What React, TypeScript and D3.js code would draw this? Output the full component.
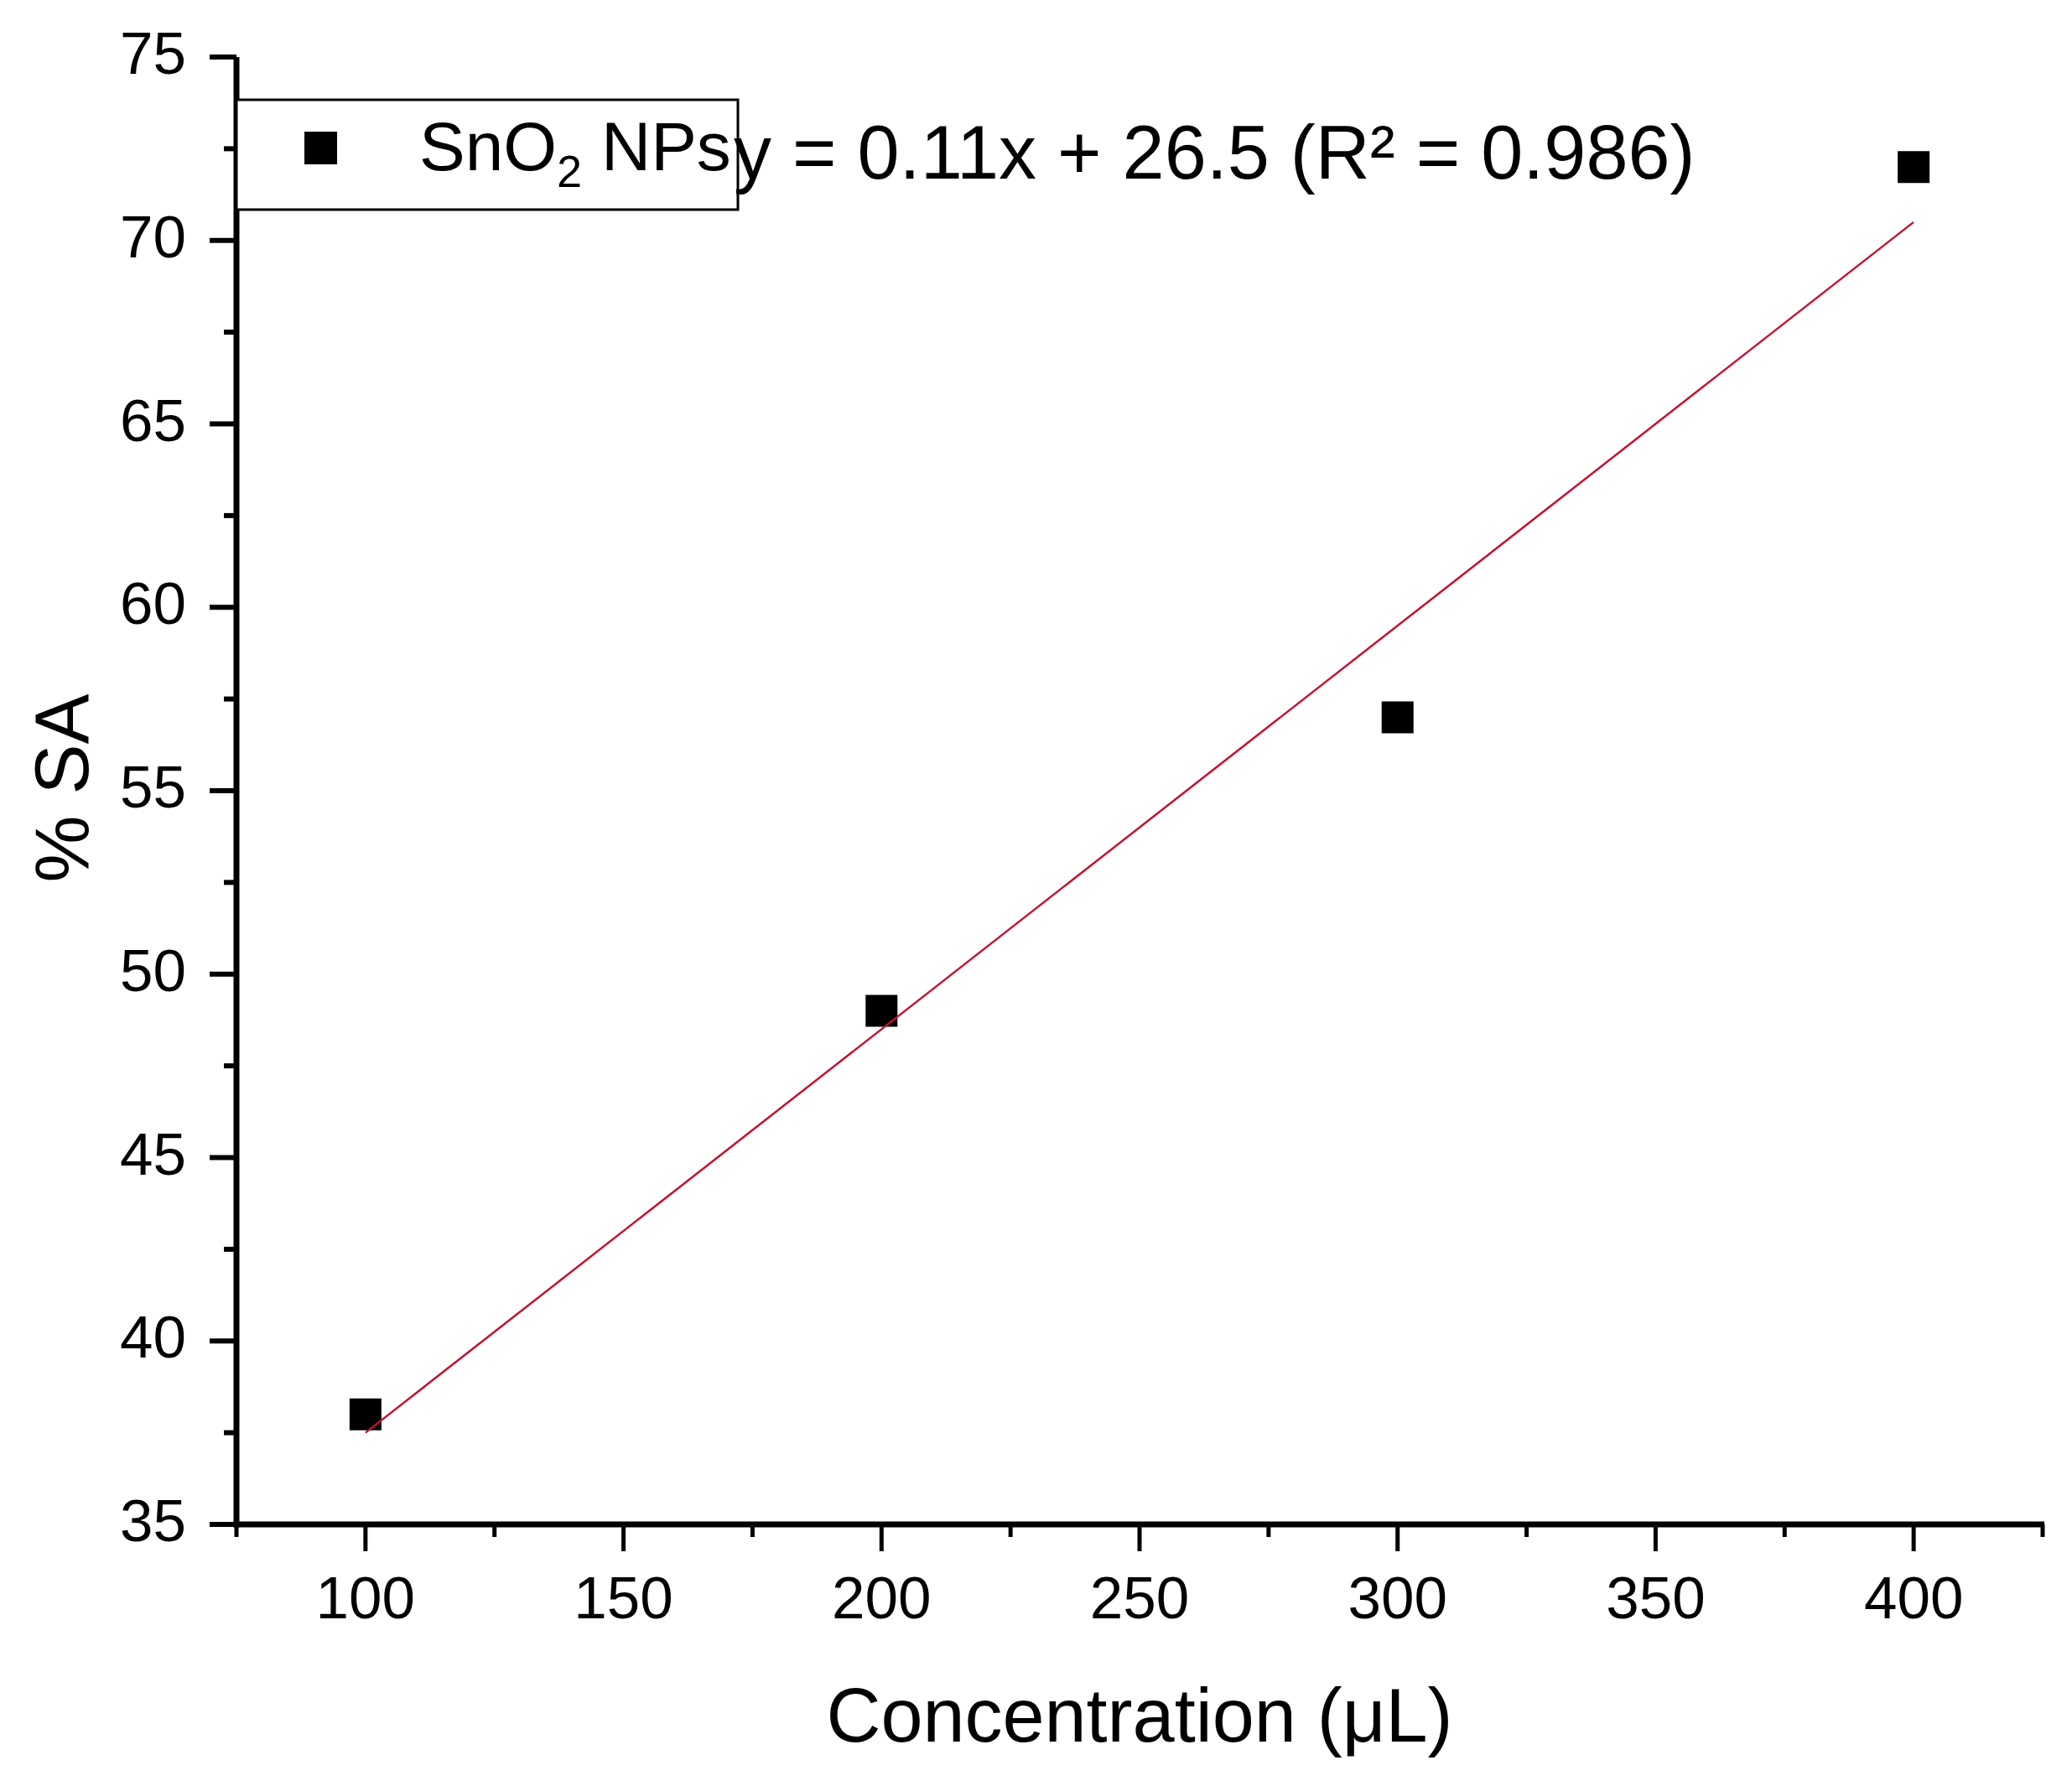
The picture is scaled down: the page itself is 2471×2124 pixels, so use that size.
import React from "react";
import * as d3 from "d3";

const concentration = [100, 200, 300, 400];
const percentSA = [38, 49, 57, 72];
const xMajorTicks = [100, 150, 200, 250, 300, 350, 400];
const xMinorTicks = [75, 125, 175, 225, 275, 325, 375, 425];
const yMajorTicks = [35, 40, 45, 50, 55, 60, 65, 70, 75];
const yMinorTicks = [37.5, 42.5, 47.5, 52.5, 57.5, 62.5, 67.5, 72.5];
const xDomain = [75, 425];
const yDomain = [35, 75];
const seriesName = "SnO";
const equationText = "y = 0.11x + 26.5 (R\u00B2 = 0.986)";

const W = 2471;
const H = 2124;
const left = 282;
const right = 2436;
const top = 68;
const bottom = 1818;
const FONT = "'Liberation Sans', Arial, Helvetica, sans-serif";

export default function App() {
  const x = d3.scaleLinear().domain(xDomain).range([left, right]);
  const y = d3.scaleLinear().domain(yDomain).range([bottom, top]);

  // least-squares fit
  const mx = d3.mean(concentration)!;
  const my = d3.mean(percentSA)!;
  const slope =
    d3.sum(concentration.map((c, i) => (c - mx) * (percentSA[i] - my))) /
    d3.sum(concentration.map((c) => (c - mx) * (c - mx)));
  const intercept = my - slope * mx;
  const xFit = d3.extent(concentration) as [number, number];
  const fitLine = d3
    .line<number>()
    .x((d) => x(d))
    .y((d) => y(slope * d + intercept))(xFit);

  const sq = 38;

  return (
    <div style={{ position: "absolute", left: 0, top: 0 }}>
      <svg width={W} height={H} style={{ display: "block", background: "#fff" }}>
        <rect x={0} y={0} width={W} height={H} fill="#fff" />
        {/* points */}
        {concentration.map((c, i) => (
          <rect
            key={i}
            x={x(c) - sq / 2}
            y={y(percentSA[i]) - sq / 2}
            width={sq}
            height={sq}
            fill="#000"
          />
        ))}
        {/* fit line */}
        <path d={fitLine ?? ""} stroke="#c41230" strokeWidth={2.5} fill="none" />
        {/* axes lines */}
        <line x1={left} x2={left} y1={top} y2={bottom + 3.5} stroke="#000" strokeWidth={7} />
        <line x1={left - 3.5} x2={right + 2} y1={bottom} y2={bottom} stroke="#000" strokeWidth={7} />
        {/* y ticks */}
        {yMajorTicks.map((t) => (
          <g key={"ym" + t}>
            <line x1={left - 32} x2={left} y1={y(t)} y2={y(t)} stroke="#000" strokeWidth={6} />
            <text
              x={222}
              y={y(t) + 20}
              textAnchor="end"
              fontFamily={FONT}
              fontSize={71}
              fill="#000"
            >
              {t}
            </text>
          </g>
        ))}
        {yMinorTicks.map((t) => (
          <line key={"yn" + t} x1={left - 15} x2={left} y1={y(t)} y2={y(t)} stroke="#000" strokeWidth={6} />
        ))}
        {/* x ticks */}
        {xMajorTicks.map((t) => (
          <g key={"xm" + t}>
            <line x1={x(t)} x2={x(t)} y1={bottom} y2={bottom + 32} stroke="#000" strokeWidth={5} />
            <text
              x={x(t)}
              y={1930}
              textAnchor="middle"
              fontFamily={FONT}
              fontSize={71}
              fill="#000"
            >
              {t}
            </text>
          </g>
        ))}
        {xMinorTicks.map((t) => (
          <line key={"xn" + t} x1={x(t)} x2={x(t)} y1={bottom} y2={bottom + 15} stroke="#000" strokeWidth={5} />
        ))}
        {/* axis titles */}
        <text
          x={(left + right) / 2}
          y={2077}
          textAnchor="middle"
          fontFamily={FONT}
          fontSize={90}
          fill="#000"
        >
          Concentration (μL)
        </text>
        <text
          transform={`translate(105, 940) rotate(-90)`}
          textAnchor="middle"
          fontFamily={FONT}
          fontSize={90}
          fill="#000"
        >
          % SA
        </text>
        {/* legend */}
        <rect x={left} y={119} width={598} height={131} fill="#fff" stroke="#000" strokeWidth={3} />
        <rect x={363} y={157} width={39} height={39} fill="#000" />
        <text x={500} y={203} fontFamily={FONT} fontSize={82} fill="#000">
          {seriesName}
          <tspan fontSize={54} dy={20}>2</tspan>
          <tspan dy={-20}> NPs</tspan>
        </text>
        {/* equation */}
        <text x={875} y={213} fontFamily={FONT} fontSize={90} fill="#000">
          {equationText}
        </text>
      </svg>
    </div>
  );
}
